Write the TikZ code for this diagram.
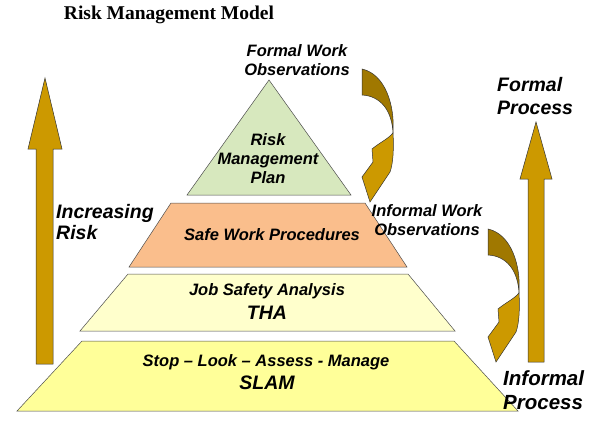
\documentclass[tikz,border=0pt]{standalone}
\usepackage{fontspec}
\setmainfont{Liberation Serif}
\setsansfont{Liberation Sans}
\usepackage{tikz}
\definecolor{rmgold}{RGB}{204,153,0}
\definecolor{rmdark}{RGB}{160,120,0}
\definecolor{rmgreen}{RGB}{215,232,190}
\definecolor{rmorange}{RGB}{250,190,140}
\definecolor{rmcream}{RGB}{255,255,204}
\definecolor{rmyellow}{RGB}{255,255,153}

\begin{document}
\begin{tikzpicture}[
    x=1pt, y=-1pt,
    layer/.style={draw=black!70, line width=0.5pt},
    blockarrow/.style={draw=black!80, fill=rmgold, line width=0.5pt},
    txt/.style={inner sep=0pt, align=center, font=\sffamily\bfseries\itshape\fontsize{16.5}{19}\selectfont},
    bigtxt/.style={inner sep=0pt, align=center, font=\sffamily\bfseries\itshape\fontsize{19.5}{21}\selectfont},
    sidetxt/.style={inner sep=0pt, align=left, anchor=west, font=\sffamily\bfseries\itshape\fontsize{19.5}{21}\selectfont},
    bendarrow/.pic={
        \filldraw[fill=rmdark, draw=black!80, line width=0.5pt]
            (0,0) .. controls (23,5) and (33,36) .. (31,64)
            .. controls (30,42) and (19,27) .. (0,26) -- cycle;
        \filldraw[fill=rmgold, draw=black!80, line width=0.5pt]
            (31,64) .. controls (32,80) and (31,95) .. (28,103)
            -- (8,133) -- (0,108) -- (11,93) -- (10,80)
            .. controls (17,74) and (26,70) .. (31,64) -- cycle;
    },
]
\useasboundingbox (0,0) rectangle (591,423);

% pyramid
\filldraw[layer, fill=rmgreen] (269,80) -- (351,195) -- (187,195) -- cycle;
\filldraw[layer, fill=rmorange] (171,203) -- (365,203) -- (407,267) -- (129,267) -- cycle;
\filldraw[layer, fill=rmcream] (128,274) -- (408,274) -- (455,331) -- (80,331) -- cycle;
\filldraw[layer, fill=rmyellow] (82,341) -- (454,341) -- (518,411) -- (17,411) -- cycle;

% straight arrows
\filldraw[blockarrow] (45,78) -- (62,149) -- (53,149) -- (53,364) -- (36,364) -- (36,149) -- (28,149) -- cycle;
\filldraw[blockarrow] (536,122) -- (552,179) -- (544,179) -- (544,362) -- (528,362) -- (528,179) -- (520,179) -- cycle;

% curved arrows
\pic at (362,69) {bendarrow};
\pic at (488,229) {bendarrow};

% texts
\node[inner sep=0pt, font=\rmfamily\bfseries\fontsize{19.5}{21}\selectfont] (title) at (169,15) {Risk Management Model};
\node[txt] (formalobs) at (297,60) {Formal Work\\Observations};
\node[txt] (informalobs) at (427,220) {Informal Work\\Observations};
\node[sidetxt] (risk) at (56,222) {Increasing\\Risk};
\node[sidetxt] (formal) at (497,96) {Formal\\[2pt]Process};
\node[sidetxt, font=\sffamily\bfseries\itshape\fontsize{20.5}{21}\selectfont] (informal) at (503,390) {Informal\\[3pt]Process};

\node[txt] (plan) at (268,159) {Risk\\Management\\Plan};
\node[txt] (swp) at (272,235) {Safe Work Procedures};
\node[txt] (jsa) at (267,291) {Job Safety Analysis};
\node[bigtxt] (tha) at (267,313) {THA};
\node[txt] (slamtext) at (266,362) {Stop – Look – Assess - Manage};
\node[bigtxt] (slam) at (267,383) {SLAM};
\end{tikzpicture}
\end{document}
